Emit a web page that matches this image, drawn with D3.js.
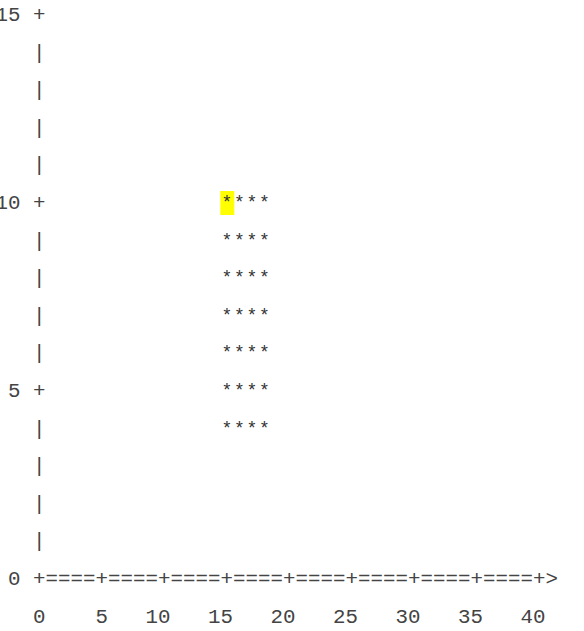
<!DOCTYPE html>
<html>
<head>
<meta charset="utf-8">
<script src="https://cdn.jsdelivr.net/npm/d3@7"></script>
<style>
  html, body { margin: 0; padding: 0; background: #fff; }
  svg { display: block; }
  text { font-family: "Liberation Mono", "DejaVu Sans Mono", monospace; font-size: 20.8px; fill: #444; }
  text.star { font-size: 18px; fill: #333; }
</style>
</head>
<body>
<svg id="chart" width="584" height="631"></svg>
<script>
// ---- data ----
const xCategories = [15, 16, 17, 18];          // columns of the star block
const yValues = [4, 5, 6, 7, 8, 9, 10];         // rows of the star block
const highlightPoint = [15, 10];                // highlighted cell
const xTickLabels = [0, 5, 10, 15, 20, 25, 30, 35, 40];
const yTickLabels = [0, 5, 10, 15];
const xMax = 40, yMax = 15;

const svg = d3.select("#chart");
const x = d3.scaleLinear().domain([0, xMax]).range([39.3, 539.3]);
const y = d3.scaleLinear().domain([0, yMax]).range([578, 14]);
const colW = x(1) - x(0);
const base = 7;   // baseline offset from row centre

// highlight
svg.append("rect")
  .attr("x", x(highlightPoint[0]) - 6.5)
  .attr("y", y(highlightPoint[1]) - 11)
  .attr("width", 14)
  .attr("height", 24)
  .attr("fill", "#ffff00");

// y axis: '+' at ticks, '|' between
const yRows = d3.range(1, yMax + 1);
svg.append("g").selectAll("text")
  .data(yRows)
  .join("text")
  .attr("x", x(0))
  .attr("y", d => y(d) + base)
  .attr("text-anchor", "middle")
  .text(d => yTickLabels.includes(d) ? "+" : "|");

// y tick labels (right-aligned, one blank column before axis)
svg.append("g").selectAll("text")
  .data(yTickLabels)
  .join("text")
  .attr("x", x(0) - 2 * colW + colW / 2)
  .attr("y", d => y(d) + base)
  .attr("text-anchor", "end")
  .text(d => d);

// x axis: '+' at ticks, '=' between, '>' at end
const xCols = d3.range(0, xMax + 1);
svg.append("g").selectAll("text")
  .data(xCols)
  .join("text")
  .attr("x", d => x(d))
  .attr("y", y(0) + base)
  .attr("text-anchor", "middle")
  .text(d => xTickLabels.includes(d) ? "+" : "=");
svg.append("text")
  .attr("x", x(xMax + 1))
  .attr("y", y(0) + base)
  .attr("text-anchor", "middle")
  .text(">");

// x tick labels (last digit under tick)
svg.append("g").selectAll("text")
  .data(xTickLabels)
  .join("text")
  .attr("x", d => x(d) + colW / 2)
  .attr("y", y(-1) + base)
  .attr("text-anchor", "end")
  .text(d => d);

// star block
const cells = [];
yValues.forEach(v => xCategories.forEach(c => cells.push([c, v])));
svg.append("g").selectAll("text")
  .data(cells)
  .join("text")
  .attr("class", "star")
  .attr("x", d => x(d[0]))
  .attr("y", d => y(d[1]) + base - 1)
  .attr("text-anchor", "middle")
  .text("*");
</script>
</body>
</html>
